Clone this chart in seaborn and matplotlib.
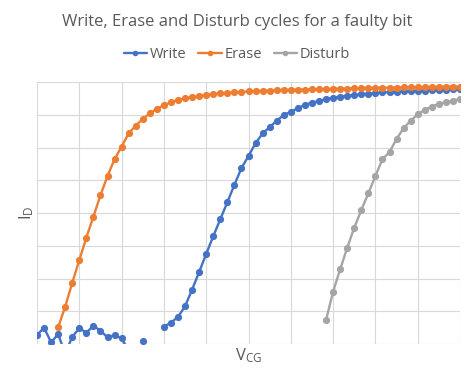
import numpy as np
import pandas as pd
import matplotlib
matplotlib.use('Agg')
import matplotlib.pyplot as plt
import seaborn as sns

# gate voltage steps (index along the V_CG sweep)
steps = list(range(61))

nan = np.nan
write = [0.27, 0.50, 0.05, 0.30, -0.30, 0.22, 0.48, 0.35, 0.55, 0.41,
         0.20, 0.27, 0.17, -0.20, nan, 0.10, nan, nan, 0.53, 0.65,
         0.83, 1.15, 1.66, 2.20, 2.75, 3.29, 3.81, 4.33, 4.86, 5.37,
         5.74, 6.13, 6.43, 6.62, 6.82, 6.99, 7.09, 7.20, 7.30, 7.37,
         7.42, 7.48, 7.52, 7.55, 7.58, 7.60, 7.62, 7.64, 7.66, 7.68,
         7.69, 7.70, 7.71, 7.72, 7.73, 7.74, 7.75, 7.76, 7.77, 7.78, 7.79]
erase = [nan, nan, nan, 0.51, 1.14, 1.87, 2.56, 3.25, 3.89, 4.54,
         5.13, 5.64, 6.03, 6.43, 6.67, 6.87, 7.04, 7.18, 7.29, 7.38,
         7.45, 7.50, 7.54, 7.57, 7.60, 7.63, 7.65, 7.67, 7.68, 7.70,
         7.71, 7.72, 7.73, 7.74, 7.75, 7.76, 7.76, 7.77, 7.77, 7.78,
         7.78, 7.79, 7.79, 7.80, 7.80, 7.81, 7.81, 7.82, 7.82, 7.82,
         7.83, 7.83, 7.84, 7.84, 7.84, 7.85, 7.85, 7.85, 7.86, 7.86, 7.86]
disturb = [nan] * 41 + [0.73, 1.60, 2.28, 2.94, 3.55, 4.09, 4.60, 5.13, 5.64,
                        5.86, 6.26, 6.59, 6.82, 7.01, 7.15, 7.25, 7.33, 7.38,
                        7.43, 7.48]

series = {'Write': write, 'Erase': erase, 'Disturb': disturb}
colors = {'Write': '#4472C4', 'Erase': '#ED7D31', 'Disturb': '#A5A5A5'}

# long table, gaps split into separate segments so lines are not joined
rows = []
for name, vals in series.items():
    seg = 0
    prev_nan = True
    for x, v in zip(steps, vals):
        if np.isnan(v):
            prev_nan = True
            continue
        if prev_nan:
            seg += 1
            prev_nan = False
        rows.append({'x': x, 'I': v, 'series': name, 'seg': f'{name}{seg}'})
df = pd.DataFrame(rows)

sns.set_style('white')
plt.rcParams['font.family'] = ['Open Sans', 'DejaVu Sans']
text_col = '#595959'

fig = plt.figure(figsize=(4.74, 3.82), dpi=100)
ax = fig.add_axes([37 / 474, 38 / 382, 423 / 474, 262 / 382])

sns.lineplot(data=df, x='x', y='I', hue='series', units='seg', estimator=None,
             palette=colors, marker='o', markersize=5.2, markeredgewidth=0,
             linewidth=1.7, ax=ax, legend=False)

ax.set_xlim(0, 60)
ax.set_ylim(0, 8)
ax.set_xticks(range(0, 61, 6))
ax.set_yticks(range(0, 9))
ax.tick_params(length=0, labelbottom=False, labelleft=False)
ax.grid(True, color='#d9d9d9', linewidth=0.8)
ax.set_axisbelow(True)
for s in ax.spines.values():
    s.set_visible(False)

ax.set_xlabel(r'V$\mathregular{_{CG}}$', fontsize=12, color=text_col, labelpad=2)
ax.set_ylabel(r'I$\mathregular{_{D}}$', fontsize=12, color=text_col, labelpad=1)

fig.text(0.5, 1 - 22 / 382, 'Write, Erase and Disturb cycles for a faulty bit',
         ha='center', va='center', fontsize=12, color=text_col)

handles = [plt.Line2D([], [], color=colors[n], marker='o', markersize=4,
                      markeredgewidth=0, linewidth=1.7) for n in series]
fig.legend(handles, list(series), loc='center', bbox_to_anchor=(0.5, 1 - 55 / 382),
           ncol=3, frameon=False, fontsize=10.5, labelcolor=text_col,
           handlelength=1.6, handletextpad=0.2, columnspacing=0.8)

fig.savefig('out.png', dpi=100)
